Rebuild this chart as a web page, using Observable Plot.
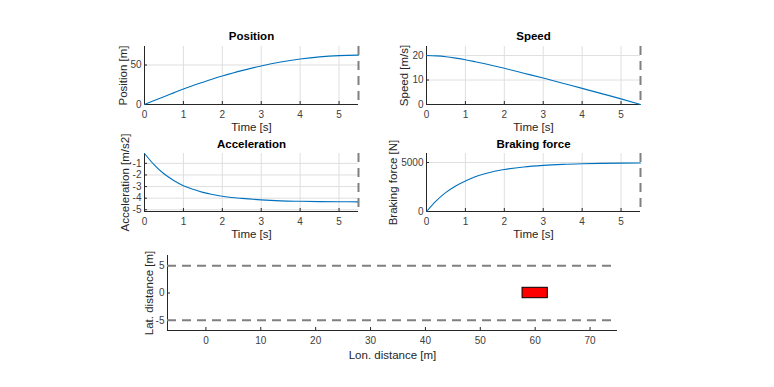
<!DOCTYPE html>
<html><head><meta charset="utf-8">
<script src="https://cdn.jsdelivr.net/npm/d3@7"></script>
<script src="https://cdn.jsdelivr.net/npm/@observablehq/plot@0.6"></script>
<style>
html,body{margin:0;padding:0;background:#fff;}
#fig{position:relative;width:774px;height:387px;overflow:hidden;background:#fff;}
#fig svg{position:absolute;overflow:visible;}
</style></head><body><div id="fig"></div>
<script>
// ---- data ----
const time = [0, 0.25, 0.5, 0.75, 1, 1.25, 1.5, 1.75, 2, 2.5, 3, 3.5, 4, 4.5, 5, 5.5];
const position = [0, 4.98, 9.9, 14.7, 19.5, 24.0, 28.2, 32.3, 36.0, 42.9, 48.8, 53.7, 57.5, 60.3, 61.9, 62.5];
const speed = [20, 19.85, 19.5, 18.95, 18.3, 17.5, 16.65, 15.75, 14.8, 12.8, 10.8, 8.7, 6.6, 4.45, 2.3, 0];
const acceleration = [-0.15, -1.13, -1.9, -2.47, -2.92, -3.24, -3.5, -3.68, -3.83, -4.02, -4.15, -4.23, -4.27, -4.3, -4.31, -4.32];
const brakingForce = [0, 1090, 1950, 2610, 3120, 3540, 3860, 4110, 4290, 4550, 4710, 4810, 4870, 4910, 4940, 4950];
const tEnd = 5.5;
const timeTicks = [0, 1, 2, 3, 4, 5];
const positionTicks = [0, 50];
const speedTicks = [0, 10, 20];
const accelerationTicks = [-5, -4, -3, -2, -1];
const forceTicks = [0, 5000];
const laneLines = [-5, 5];
const carLon = [57.7, 62.3];
const carLat = [-0.95, 0.95];
const lonTicks = [0, 10, 20, 30, 40, 50, 60, 70];
const latTicks = [-5, 0, 5];

// ---- styling / layout ----
const FONT = '"Liberation Sans", Arial, Helvetica, sans-serif';
const INK = "#262626";
const TICKINK = "#404040";
const GRID = "#dfdfdf";
const BLUE = "#0072BD";
const DASH = {stroke: "#808080", strokeWidth: 2, strokeDasharray: "9,6"};
const fmt = d => String(d);
const fig = document.getElementById("fig");

function place(chart, l, t, mL, mT) {
  chart.style.left = (l - mL) + "px";
  chart.style.top = (t - mT) + "px";
  fig.appendChild(chart);
}
function titleMark(s, dy) {
  return Plot.text([s], {text: d => d, frameAnchor: "top", dy, lineAnchor: "middle", textAnchor: "middle", fontWeight: "bold", fontSize: 11.5, fill: "#000"});
}
function xLabelMark(s, dy) {
  return Plot.text([s], {text: d => d, frameAnchor: "bottom", dy, lineAnchor: "middle", textAnchor: "middle", fontSize: 11.5, fill: INK});
}
function yLabelMark(s, dx) {
  return Plot.text([s], {text: d => d, frameAnchor: "left", dx, rotate: -90, lineAnchor: "middle", textAnchor: "middle", fontSize: 11.5, fill: INK});
}

function panel({frame, xDomain, yDomain, xTicks, yTicks, series, title, titleDy, xLabel, xLabelDy, yLabel, yLabelDx}) {
  const [l, t, r, b] = frame;
  const mL = 70, mT = 30, mR = 20, mB = 40;
  const rows = time.map((tt, i) => ({t: tt, v: series[i]}));
  const chart = Plot.plot({
    width: (r - l) + mL + mR, height: (b - t) + mT + mB,
    marginLeft: mL, marginTop: mT, marginRight: mR, marginBottom: mB,
    style: {fontFamily: FONT, fontSize: "10px", color: TICKINK, background: "transparent", overflow: "visible"},
    x: {domain: xDomain}, y: {domain: yDomain},
    marks: [
      Plot.gridX(xTicks, {stroke: GRID, strokeOpacity: 1}),
      Plot.gridY(yTicks, {stroke: GRID, strokeOpacity: 1}),
      Plot.axisX(xTicks, {tickSize: 0, tickPadding: 6, tickFormat: fmt, label: null, fontSize: 10}),
      Plot.axisX(xTicks, {tickSize: 3, dy: -3, tickFormat: () => "", label: null, stroke: INK}),
      Plot.axisY(yTicks, {tickSize: 0, tickPadding: 3, tickFormat: fmt, label: null, fontSize: 10}),
      Plot.axisY(yTicks, {tickSize: 3, dx: 3, tickFormat: () => "", label: null, stroke: INK}),
      Plot.ruleX([xDomain[0]], {stroke: INK}),
      Plot.ruleY([yDomain[0]], {stroke: INK}),
      Plot.line(rows, {x: "t", y: "v", stroke: BLUE, strokeWidth: 1.1, curve: "monotone-x"}),
      Plot.ruleX([tEnd], DASH),
      titleMark(title, titleDy),
      xLabelMark(xLabel, xLabelDy),
      yLabelMark(yLabel, yLabelDx)
    ]
  });
  place(chart, l, t, mL, mT);
}

panel({frame: [144, 46, 358, 104], xDomain: [0, tEnd], yDomain: [0, 73.4], xTicks: timeTicks, yTicks: positionTicks,
  series: position, title: "Position", titleDy: -10, xLabel: "Time [s]", xLabelDy: 23, yLabel: "Position [m]", yLabelDx: -21});
panel({frame: [426, 46, 640, 104], xDomain: [0, tEnd], yDomain: [0, 23.7], xTicks: timeTicks, yTicks: speedTicks,
  series: speed, title: "Speed", titleDy: -10, xLabel: "Time [s]", xLabelDy: 23, yLabel: "Speed [m/s]", yLabelDx: -22.5});
panel({frame: [144, 153, 358, 211], xDomain: [0, tEnd], yDomain: [-5.15, -0.15], xTicks: timeTicks, yTicks: accelerationTicks,
  series: acceleration, title: "Acceleration", titleDy: -9, xLabel: "Time [s]", xLabelDy: 23, yLabel: "Acceleration [m/s2]", yLabelDx: -19});
panel({frame: [426, 153, 640, 211], xDomain: [0, tEnd], yDomain: [0, 5920], xTicks: timeTicks, yTicks: forceTicks,
  series: brakingForce, title: "Braking force", titleDy: -9, xLabel: "Time [s]", xLabelDy: 23, yLabel: "Braking force [N]", yLabelDx: -33});

// ---- bottom: road view ----
(function () {
  const [l, t, r, b] = [167, 255, 617, 330];
  const mL = 70, mT = 20, mR = 20, mB = 40;
  const xDomain = [-7, 75], yDomain = [-6.85, 6.85];
  const chart = Plot.plot({
    width: (r - l) + mL + mR, height: (b - t) + mT + mB,
    marginLeft: mL, marginTop: mT, marginRight: mR, marginBottom: mB,
    style: {fontFamily: FONT, fontSize: "10px", color: TICKINK, background: "transparent", overflow: "visible"},
    x: {domain: xDomain}, y: {domain: yDomain},
    marks: [
      Plot.axisX(lonTicks, {tickSize: 0, tickPadding: 6, tickFormat: fmt, label: null, fontSize: 10}),
      Plot.axisX(lonTicks, {tickSize: 3, dy: -3, tickFormat: () => "", label: null, stroke: INK}),
      Plot.axisY(latTicks, {tickSize: 0, tickPadding: 3, tickFormat: fmt, label: null, fontSize: 10}),
      Plot.axisY(latTicks, {tickSize: 3, dx: 3, tickFormat: () => "", label: null, stroke: INK}),
      Plot.ruleX([xDomain[0]], {stroke: INK}),
      Plot.ruleY([yDomain[0]], {stroke: INK}),
      Plot.ruleY(laneLines, DASH),
      Plot.rect([0], {x1: () => carLon[0], x2: () => carLon[1], y1: () => carLat[0], y2: () => carLat[1], fill: "#ff0000", stroke: "#000", strokeWidth: 1}),
      xLabelMark("Lon. distance [m]", 24.5),
      yLabelMark("Lat. distance [m]", -18.5)
    ]
  });
  place(chart, l, t, mL, mT);
})();
</script></body></html>
